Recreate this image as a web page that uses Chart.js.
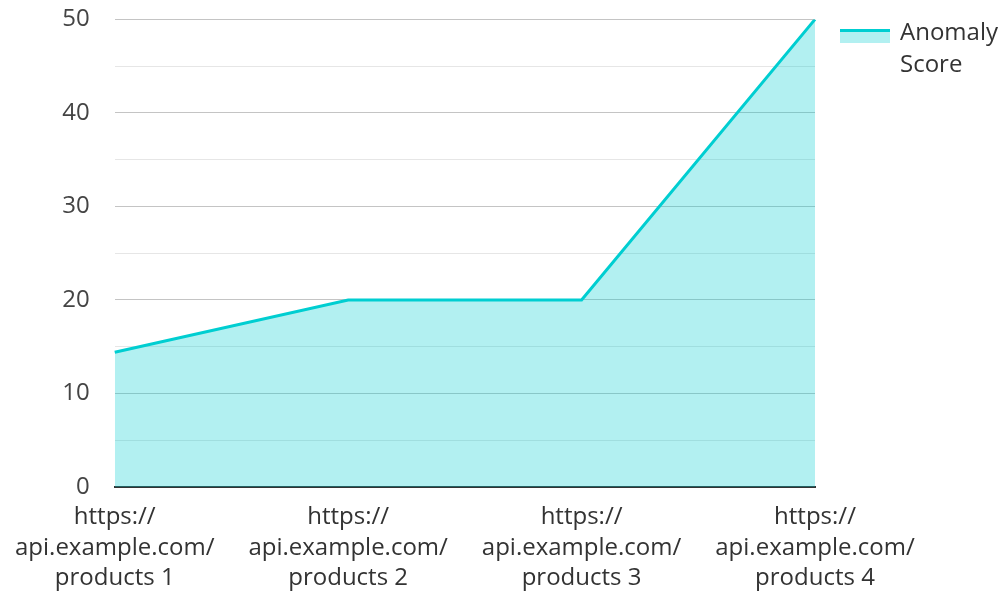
<!DOCTYPE html>
<html lang="en">
<head>
<meta charset="UTF-8">
<title>Anomaly Score</title>
<script src="https://cdn.jsdelivr.net/npm/chart.js@4.4.0/dist/chart.umd.min.js"></script>
<style>
  * { margin: 0; padding: 0; box-sizing: border-box; }
  body { background: #fff; font-family: 'Open Sans', sans-serif; }
  .wrap { position: relative; width: 1005px; height: 593px; }
  .legend { position: absolute; left: 840px; top: 15px; display: flex; align-items: flex-start; color: #333; font-size: 24px; line-height: 32px; }
  .legend .sym { width: 50px; height: 14px; margin-top: 14px; margin-right: 10px; background: rgba(0,206,209,0.3); border-top: 3px solid #00CED1; }
</style>
</head>
<body>
<div class="wrap">
  <canvas id="chart" width="1005" height="593"></canvas>
  <div class="legend"><div class="sym"></div><div>Anomaly<br>Score</div></div>
</div>
<script>
const categories = [
  ['https://', 'api.example.com/', 'products 1'],
  ['https://', 'api.example.com/', 'products 2'],
  ['https://', 'api.example.com/', 'products 3'],
  ['https://', 'api.example.com/', 'products 4']
];
const anomalyScore = [14.4, 20, 20, 50];
const seriesName = 'Anomaly Score';

new Chart(document.getElementById('chart'), {
  type: 'line',
  data: {
    labels: categories,
    datasets: [{
      label: seriesName,
      data: anomalyScore,
      borderColor: '#00CED1',
      backgroundColor: 'rgba(0,206,209,0.3)',
      borderWidth: 3,
      fill: 'origin',
      pointRadius: 0,
      tension: 0
    }]
  },
  options: {
    responsive: false,
    animation: false,
    layout: { padding: { top: 0, right: 190, left: 0, bottom: 0 } },
    plugins: { legend: { display: false }, tooltip: { enabled: false } },
    scales: {
      x: {
        offset: false,
        grid: { display: false, drawTicks: false },
        border: { color: '#333', width: 2 },
        ticks: { color: '#333', font: { family: 'Open Sans', size: 24, lineHeight: 1.27 }, maxRotation: 0, autoSkip: false, padding: 15 },
        afterFit: s => { s.height = 106; }
      },
      y: {
        min: 0, max: 50,
        border: { display: false },
        grid: {
          drawTicks: true,
          tickLength: 20,
          tickColor: 'rgba(0,0,0,0)',
          color: ctx => (ctx.tick && ctx.tick.value % 10 === 0) ? '#c4c4c4' : '#e6e6e6'
        },
        ticks: {
          stepSize: 5,
          color: '#444',
          padding: 5,
          font: { family: 'Open Sans', size: 24 },
          callback: v => (v % 10 === 0 ? v : '')
        },
        afterFit: s => { s.width = 113; }
      }
    }
  }
});
</script>
</body>
</html>
